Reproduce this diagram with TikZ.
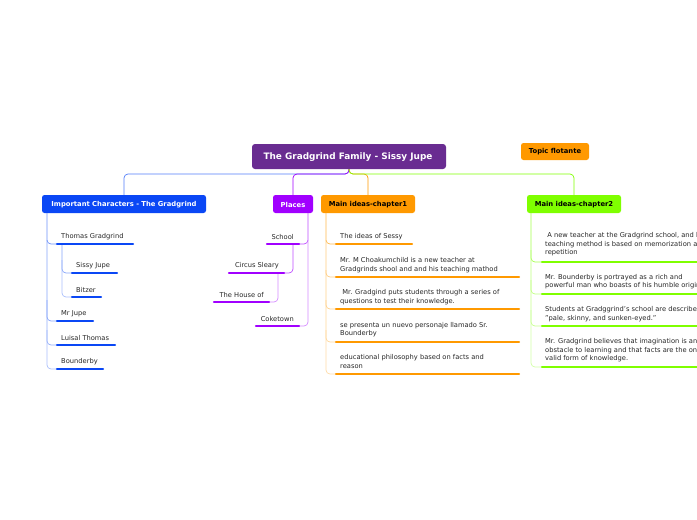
\documentclass[tikz,border=0pt]{standalone}
\usepackage{fontspec}
\setmainfont{DejaVu Sans}
\begin{document}
\begin{tikzpicture}[x=1pt,y=-1pt,
 tt/.style={font=\bfseries\fontsize{6.8}{7}\selectfont},
 lbl/.style={font=\fontsize{6.7}{8.6}\selectfont,text=black!85,align=left,inner sep=0pt},
 ul/.style={line width=2.4pt,line cap=round},
 br/.style={line width=0.7pt,rounded corners=4pt}]
\definecolor{cRoot}{HTML}{692C91}
\definecolor{cBlue}{HTML}{0A47F5}
\definecolor{cPurp}{HTML}{A100FF}
\definecolor{cOr}{HTML}{FF9900}
\definecolor{cGr}{HTML}{7FFF00}
\useasboundingbox (0,0) rectangle (697,520);
\clip (0,0) rectangle (697,520);
% connectors from root
\draw[br,cBlue!70] (349,169) |- (124,174) -- (124,195);
\draw[br,cPurp] (349,169) |- (293,174) -- (293,195);
\draw[br,cOr] (349,169) |- (368,174) -- (368,195);
\draw[br,cGr] (349,169) |- (574,174) -- (574,195);
% topics
\fill[cRoot,rounded corners=3pt] (252,144) rectangle (446,169);
\node[text=white,font=\bfseries\fontsize{8.9}{9}\selectfont] (root) at (348,157) {The Gradgrind Family - Sissy Jupe};
\fill[cOr,rounded corners=2.5pt] (521,143) rectangle (589,160);
\node[tt] (float) at (555,152) {Topic flotante};
\fill[cBlue,rounded corners=2.5pt] (42,195) rectangle (206,213);
\node[tt,text=white] (ic) at (124,204.5) {Important Characters - The Gradgrind};
\fill[cPurp,rounded corners=2.5pt] (273,195) rectangle (313,213);
\node[tt,text=white] (pl) at (293,204.5) {Places};
\fill[cOr,rounded corners=2.5pt] (321,195) rectangle (415,213);
\node[tt] (c1) at (368,204.5) {Main ideas-chapter1};
\fill[cGr,rounded corners=2.5pt] (527,195) rectangle (621,213);
\node[tt] (c2) at (574,204.5) {Main ideas-chapter2};
% blue children
\draw[br,cBlue!60] (47,213) |- (56,244);
\draw[br,cBlue!50] (47,240) |- (56,321);
\draw[br,cBlue!45] (47,300) |- (56,345);
\draw[br,cBlue!35] (47,330) |- (56,369);
\draw[br,cBlue!50] (62,244) |- (71,273);
\draw[br,cBlue!35] (62,260) |- (71,297);
\node[lbl,anchor=west] (t1) at (61,237) {Thomas Gradgrind};
\draw[ul,cBlue] (57,244) -- (133,244);
\node[lbl,anchor=west] (t2) at (76,266) {Sissy Jupe};
\draw[ul,cBlue] (72,273) -- (117,273);
\node[lbl,anchor=west] (t3) at (76,290) {Bitzer};
\draw[ul,cBlue] (72,297) -- (101,297);
\node[lbl,anchor=west] (t4) at (61,314) {Mr Jupe};
\draw[ul,cBlue] (57,321) -- (93,321);
\node[lbl,anchor=west] (t5) at (61,338) {Luisal Thomas};
\draw[ul,cBlue] (57,345) -- (115,345);
\node[lbl,anchor=west] (t6) at (61,362) {Bounderby};
\draw[ul,cBlue] (57,369) -- (103,369);
% places
\draw[br,cPurp!70] (308,213) |- (299,244);
\draw[br,cPurp!45] (308,240) |- (299,326);
\draw[br,cPurp!70] (293,244) |- (284,273);
\draw[br,cPurp!45] (278,273) |- (269,302);
\node[lbl,anchor=east] (p1) at (294,237) {School};
\draw[ul,cPurp] (267,244) -- (299,244);
\node[lbl,anchor=east] (p2) at (279,266) {Circus Sleary};
\draw[ul,cPurp] (229,273) -- (284,273);
\node[lbl,anchor=east] (p3) at (264,295) {The House of};
\draw[ul,cPurp] (214,302) -- (269,302);
\node[lbl,anchor=east] (p4) at (294,319) {Coketown};
\draw[ul,cPurp] (256,326) -- (299,326);
% chapter1
\draw[br,cOr!70] (326,213) |- (335,244);
\draw[br,cOr!50] (326,240) |- (335,277);
\draw[br,cOr!45] (326,270) |- (335,309);
\draw[br,cOr!40] (326,300) |- (335,342);
\draw[br,cOr!35] (326,330) |- (335,374);
\node[lbl,anchor=west] (a1) at (340,237) {The ideas of Sessy};
\draw[ul,cOr] (336,244) -- (412,244);
\node[lbl,anchor=west] (a2) at (340,265) {Mr. M Choakumchild is a new teacher at\\Gradgrinds shool and and his teaching mathod};
\draw[ul,cOr] (336,277) -- (519,277);
\node[lbl,anchor=west] (a3) at (340,297) {\ Mr. Gradgind puts students through a series of\\questions to test their knowledge.};
\draw[ul,cOr] (336,309) -- (519,309);
\node[lbl,anchor=west] (a4) at (340,329.5) {se presenta un nuevo personaje llamado Sr.\\Bounderby};
\draw[ul,cOr] (336,342) -- (519,342);
\node[lbl,anchor=west] (a5) at (340,361.5) {educational philosophy based on facts and\\reason};
\draw[ul,cOr] (336,374) -- (519,374);
% chapter2
\draw[br,cGr!70] (531,213) |- (541,262);
\draw[br,cGr!50] (531,250) |- (541,294);
\draw[br,cGr!45] (531,280) |- (541,326);
\draw[br,cGr!35] (531,310) |- (541,367);
\node[lbl,anchor=west] (b1) at (545,244.5) {\ A new teacher at the Gradgrind school, and his\\teaching method is based on memorization and\\repetition};
\draw[ul,cGr] (542,262) -- (700,262);
\node[lbl,anchor=west] (b2) at (545,281.5) {Mr. Bounderby is portrayed as a rich and\\powerful man who boasts of his humble origins};
\draw[ul,cGr] (542,294) -- (700,294);
\node[lbl,anchor=west] (b3) at (545,314) {Students at Gradggrind's school are described as\\"pale, skinny, and sunken-eyed."};
\draw[ul,cGr] (542,326) -- (700,326);
\node[lbl,anchor=west] (b4) at (545,350.5) {Mr. Gradgrind believes that imagination is an\\obstacle to learning and that facts are the only\\valid form of knowledge.};
\draw[ul,cGr] (542,367) -- (700,367);
\end{tikzpicture}
\end{document}
